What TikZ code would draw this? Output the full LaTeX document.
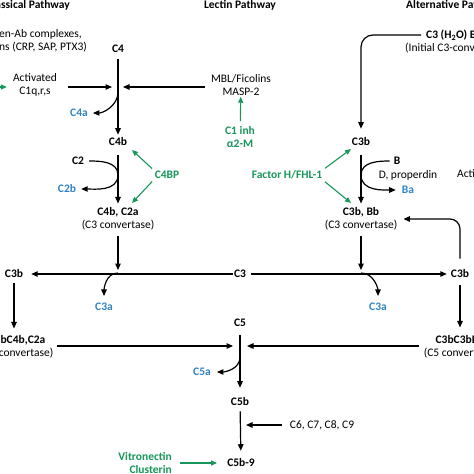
\documentclass[tikz,border=0pt]{standalone}
\usepackage{fontspec}
\setmainfont{Carlito}
\usetikzlibrary{arrows.meta}
\definecolor{cblue}{RGB}{48,132,195}
\definecolor{cgreen}{RGB}{22,150,88}
\begin{document}
\begin{tikzpicture}[x=1pt,y=-1pt,
  every node/.style={inner sep=1pt, font=\fontsize{11.5}{13}\selectfont, align=center},
  bt/.style={font=\fontsize{11.5}{13}\selectfont\bfseries},
  blu/.style={bt, text=cblue},
  grn/.style={bt, text=cgreen},
  arr/.style={line width=1.2pt, -{Triangle[length=6.5pt,width=5.5pt]}},
  garr/.style={line width=1.1pt, cgreen, -{Triangle[length=6pt,width=5pt]}}]
\useasboundingbox (0,0) rectangle (474,474);
\clip (0,0) rectangle (474,474);
% headers
\node[bt, anchor=base east] (hcl) at (71,8) {Classical Pathway};
\node[bt, anchor=base] (hle) at (240,8) {Lectin Pathway};
\node[bt, anchor=base west] (hal) at (405,8) {Alternative Pathway};
% classical
\node[anchor=east, align=right] (ag) at (88,41) {Antigen-Ab complexes,\hspace*{5pt}\\Pentraxins (CRP, SAP, PTX3)};
\node (act) at (35,85) {Activated\\C1q,r,s};
\coordinate (gl) at (-30,87);
\draw[garr, shorten >=5pt] (gl) -- (gl -| act.west);
\coordinate (j1) at (112,87);
\draw[arr, shorten <=10pt] (act.east |- j1) -- (j1);
\node[bt] (c4) at (118,49) {C4};
\node[bt] (c4b) at (118,142) {C4b};
\draw[arr, shorten <=5pt, shorten >=2pt] (c4) -- (c4b);
\node[blu] (c4a) at (79,113) {C4a};
\coordinate (c4am) at (118,92);
\draw[arr, shorten >=4pt] (c4am) to[out=-90,in=0] (c4a.east);
% lectin
\node (mbl) at (241,85) {MBL/Ficolins\\MASP-2};
\coordinate (j2) at (123,87);
\draw[arr, shorten <=5pt] (mbl.west |- j2) -- (j2);
\node[grn] (c1inh) at (240,137) {C1 inh\\α2-M};
\draw[garr, shorten <=4pt] (c1inh) -- (mbl);
% classical C2
\node[bt] (c2) at (78,161) {C2};
\node[blu] (c2b) at (67,189) {C2b};
\coordinate (c2m) at (118,175);
\draw[arr, shorten <=4pt, shorten >=4pt] (c2.east) to[out=0,in=90] (c2m) to[out=-90,in=0] (c2b.east);
\node (c4b2a) at (118,219) {\textbf{C4b, C2a}\\(C3 convertase)};
\draw[arr, shorten <=8pt, shorten >=3pt] (c4b) -- (c4b2a);
\node[grn] (c4bp) at (167,175) {C4BP};
\coordinate (t1) at (132,150);
\coordinate (t2) at (132,203);
\draw[garr, shorten <=2pt] (c4bp.north west) -- (t1);
\draw[garr, shorten <=2pt] (c4bp.south west) -- (t2);
% C3 row
\node[bt] (c3) at (240,274) {C3};
\node[bt] (c3bl) at (14,274) {C3b};
\node[bt] (c3br) at (460,274) {C3b};
\draw[arr, shorten >=7pt] (c3) -- (c3bl);
\draw[arr, shorten <=4pt, shorten >=3pt] (c3) -- (c3br);
\coordinate (k1) at (118,273);
\coordinate (k2) at (361,273);
\draw[arr, shorten <=4pt, shorten >=3pt] (c4b2a) -- (k1);
\node[blu] (c3al) at (104,307) {C3a};
\node[blu] (c3ar) at (378,307) {C3a};
\draw[arr, shorten >=6pt] (k1) to[out=180,in=90] (c3al.north);
\draw[arr, shorten >=6pt] (k2) to[out=0,in=90] (c3ar.north);
% alternative
\node[bt, anchor=west] (c3h) at (425,35) {C3 (H\textsubscript{2}O) Bb};
\node[anchor=west] (ini) at (404,48) {(Initial C3-convertase)};
\node[bt] (c3ba) at (361,142) {C3b};
\draw[arr, rounded corners=12pt, shorten <=4pt, shorten >=8pt] (c3h.west) -- (c3h.west -| c3ba) -- (c3ba);
\node (c3bbb) at (361,219) {\textbf{C3b, Bb}\\(C3 convertase)};
\draw[arr, shorten <=8pt, shorten >=3pt] (c3ba) -- (c3bbb);
\draw[arr, shorten <=4pt, shorten >=3pt] (c3bbb) -- (k2);
\node[bt] (nb) at (397,161) {B};
\node (dp) at (408,175) {D, properdin};
\node[blu] (ba) at (408,190) {Ba};
\coordinate (bm) at (361,175);
\draw[arr, shorten <=3pt, shorten >=5pt] (nb.west) to[out=180,in=90] (bm) to[out=-90,in=180] (ba.west);
\node[anchor=west] (acs) at (456,175) {Activating surfaces};
\node[grn] (fh) at (287,175) {Factor H/FHL-1};
\coordinate (t3) at (351,149);
\coordinate (t4) at (351,203);
\draw[garr, shorten <=2pt] (fh.north east) -- (t3);
\draw[garr, shorten <=2pt] (fh.south east) -- (t4);
\draw[arr, rounded corners=10pt, shorten <=10pt, shorten >=5pt] (c3br.north) -- (c3br.north |- c3bbb) -- (c3bbb.east);
% C5 convertases
\node (c3c4) at (17,347) {\textbf{C3bC4b,C2a}\\(C5 convertase)};
\node (c3c3) at (460,347) {\textbf{C3bC3bBb}\\(C5 convertase)};
\draw[arr, shorten <=4pt, shorten >=6pt] (c3bl) -- (c3bl |- c3c4.north);
\draw[arr, shorten <=6pt, shorten >=7pt] (c3br) -- (c3c3);
\node[bt] (c5) at (240,323) {C5};
\coordinate (m5l) at (233,346);
\coordinate (m5r) at (247,346);
\draw[arr, shorten <=3pt] (c3c4.east |- m5l) -- (m5l);
\draw[arr, shorten <=4pt] (c3c3.west |- m5r) -- (m5r);
\node[bt] (c5b) at (240,402) {C5b};
\draw[arr, shorten <=7pt, shorten >=9pt] (c5) -- (c5b);
\node[blu] (c5a) at (202,372) {C5a};
\coordinate (c5m) at (240,357);
\draw[arr, shorten >=5pt] (c5m) to[out=-90,in=0] (c5a.east);
\node (c69) at (322,425) {C6, C7, C8, C9};
\coordinate (c6m) at (246,425);
\draw[arr, shorten <=7pt] (c69.west) -- (c6m);
\node[bt] (c59) at (241,463) {C5b-9};
\draw[arr, shorten <=4pt, shorten >=7pt] (c5b) -- (c59);
\node[grn, align=right, anchor=east] (vit) at (173,463) {Vitronectin\\Clusterin};
\draw[garr, shorten <=7pt, shorten >=9pt] (vit.east |- c59) -- (c59.west);
\end{tikzpicture}
\end{document}
